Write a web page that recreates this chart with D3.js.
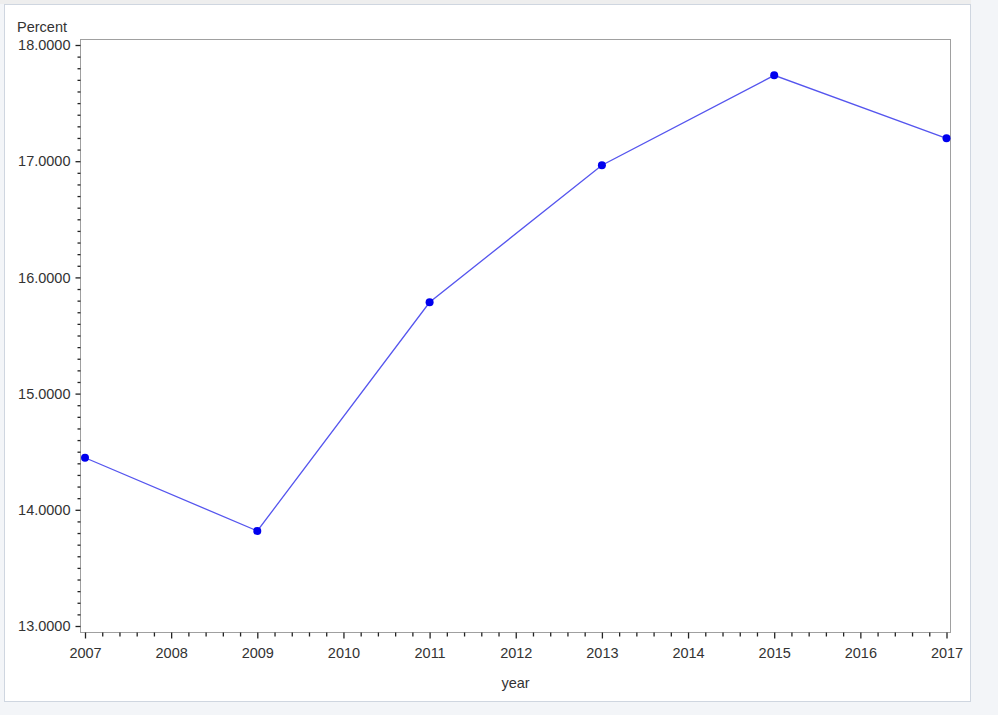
<!DOCTYPE html>
<html>
<head>
<meta charset="utf-8">
<script src="https://cdn.jsdelivr.net/npm/d3@7"></script>
<style>
  html, body { margin: 0; padding: 0; background: #f3f5f8; }
  svg { display: block; }
  text { font-family: Arial, "Liberation Sans", sans-serif; fill: #333; }
</style>
</head>
<body>
<svg id="chart" width="998" height="715"></svg>
<script>
const years = [2007, 2009, 2011, 2013, 2015, 2017];
const percent = [14.448, 13.818, 15.786, 16.965, 17.739, 17.197];
const xTickValues = [2007, 2008, 2009, 2010, 2011, 2012, 2013, 2014, 2015, 2016, 2017];
const yTickValues = [13, 14, 15, 16, 17, 18];
const yLabel = "Percent";
const xLabel = "year";

const svg = d3.select("#chart");
const W = 998, H = 715;

// page background and panel
svg.append("rect").attr("x", 0).attr("y", 0).attr("width", W).attr("height", H).attr("fill", "#f3f5f8");
svg.append("rect").attr("x", 4.5).attr("y", 4.5).attr("width", 966).attr("height", 697)
  .attr("fill", "#ffffff").attr("stroke", "#cfd6e0");
svg.append("rect").attr("x", 0).attr("y", 0).attr("width", 971).attr("height", 4)
  .attr("fill", "#eeeeee");

const frame = {left: 80.5, right: 950.5, top: 39.5, bottom: 632.5};

const x = d3.scaleLinear().domain([2007, 2017]).range([85, 946.5]);
const y = d3.scaleLinear().domain([13, 18]).range([626, 45]);

// frame
svg.append("rect")
  .attr("x", frame.left).attr("y", frame.top)
  .attr("width", frame.right - frame.left).attr("height", frame.bottom - frame.top)
  .attr("fill", "none").attr("stroke", "#a0a0a0");

const tickColor = "#222";

// y axis minor ticks
const yMinor = d3.range(130, 181).map(v => v / 10).filter(v => !yTickValues.includes(v));
const yMinorAxis = d3.axisLeft(y).tickValues(yMinor).tickSize(3).tickFormat("");
svg.append("g").attr("transform", `translate(${frame.left},0)`).call(yMinorAxis)
  .call(g => g.select(".domain").remove())
  .call(g => g.selectAll("line").attr("stroke", tickColor).attr("stroke-width", 1.3));

const yAxis = d3.axisLeft(y).tickValues(yTickValues).tickSize(5).tickPadding(5)
  .tickFormat(d3.format(".4f"));
svg.append("g").attr("transform", `translate(${frame.left},0)`).call(yAxis)
  .call(g => g.select(".domain").remove())
  .call(g => g.selectAll("line").attr("stroke", tickColor).attr("stroke-width", 1.3))
  .call(g => g.selectAll("text").attr("font-size", "14.5px").attr("fill", "#333")
    .attr("font-family", "Arial, 'Liberation Sans', sans-serif"));

// x axis minor ticks
const xMinor = d3.range(20070, 20171, 2).map(v => v / 10).filter(v => !xTickValues.includes(v));
const xMinorAxis = d3.axisBottom(x).tickValues(xMinor).tickSize(4).tickFormat("");
svg.append("g").attr("transform", `translate(0,${frame.bottom})`).call(xMinorAxis)
  .call(g => g.select(".domain").remove())
  .call(g => g.selectAll("line").attr("stroke", tickColor).attr("stroke-width", 1.3));

const xAxis = d3.axisBottom(x).tickValues(xTickValues).tickSize(6).tickPadding(9)
  .tickFormat(d3.format("d"));
svg.append("g").attr("transform", `translate(0,${frame.bottom})`).call(xAxis)
  .call(g => g.select(".domain").remove())
  .call(g => g.selectAll("line").attr("stroke", tickColor).attr("stroke-width", 1.3))
  .call(g => g.selectAll("text").attr("font-size", "14.5px").attr("fill", "#333")
    .attr("font-family", "Arial, 'Liberation Sans', sans-serif"));

// axis labels
svg.append("text").attr("x", 17).attr("y", 32).attr("font-size", "14.5px").text(yLabel);
svg.append("text").attr("x", (frame.left + frame.right) / 2).attr("y", 688)
  .attr("text-anchor", "middle").attr("font-size", "14.5px").text(xLabel);

// data
const data = years.map((yr, i) => ({year: yr, value: percent[i]}));
const line = d3.line().x(d => x(d.year)).y(d => y(d.value));
svg.append("path").datum(data).attr("d", line)
  .attr("fill", "none").attr("stroke", "#5555ee").attr("stroke-width", 1.3);
svg.selectAll("circle.pt").data(data).enter().append("circle")
  .attr("class", "pt")
  .attr("cx", d => x(d.year)).attr("cy", d => y(d.value)).attr("r", 4)
  .attr("fill", "#0000ee");
</script>
</body>
</html>
